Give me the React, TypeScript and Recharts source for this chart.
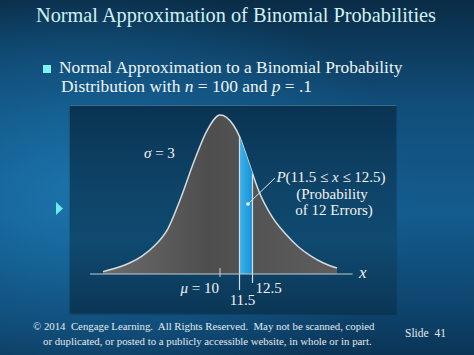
import React from "react"
import {
  Area,
  ComposedChart,
  ReferenceDot,
  ReferenceLine,
  XAxis,
  YAxis
} from "recharts"

// x values (number of errors) and curve height (density x 1000)
const xs = [1, 2, 3, 4, 5, 6, 7, 8, 9, 10, 11, 11.5, 12, 12.5, 13, 14, 15, 16, 17, 18, 19]
const density = [2, 5, 9, 15, 24, 38, 64, 94, 120, 133, 125, 115, 100, 84, 69, 48, 34, 23, 15, 9, 5]
const bandFrom = 11.5
const bandTo = 12.5
const tickValues = [10, 11.5, 12.5]

const data = xs.map((x, i) => ({
  x,
  y: density[i],
  band: x >= bandFrom && x <= bandTo ? density[i] : null
}))

const serif = "'Liberation Serif', 'DejaVu Serif', serif"
const hOf = (v: number) => density[xs.indexOf(v)]

function Tick(props: any) {
  const { x, y, payload } = props
  const v = payload.value
  const style = { fontFamily: serif, fontSize: 15, fill: "#f2f2f2" }
  if (v === 10) {
    return (
      <g>
        <line x1={x} x2={x} y1={y - 6} y2={y + 3} stroke="#c8d4dc" strokeWidth={1} />
        <text x={x - 1} y={y + 19} textAnchor="end" style={style}>
          <tspan fontStyle="italic">μ</tspan> = 10
        </text>
      </g>
    )
  }
  if (v === 11.5) {
    return (
      <text x={x + 3} y={y + 31} textAnchor="middle" style={style}>
        11.5
      </text>
    )
  }
  return (
    <text x={x + 3} y={y + 19} textAnchor="start" style={style}>
      12.5
    </text>
  )
}

export default function App() {
  const pre = { whiteSpace: "pre" as const }
  return (
    <div
      style={{
        position: "fixed",
        left: 0,
        top: 0,
        width: 474,
        height: 355,
        overflow: "hidden",
        fontFamily: serif,
        background:
          "radial-gradient(ellipse 70% 60% at 18% 55%, #1b74ac 0%, rgba(22,98,150,0.6) 50%, rgba(12,50,80,0) 100%), linear-gradient(180deg, #0a2c46 0%, #114e7a 30%, #135c8e 60%, #0e4670 85%, #0b3556 100%)"
      }}
    >
      <div
        style={{
          position: "absolute",
          left: 70,
          top: 105,
          width: 326,
          height: 207,
          background: "linear-gradient(180deg, #0a3352 0%, #0e4468 40%, #0f4a70 65%, #0b3656 100%)",
          borderTop: "1px solid #3c6c8c",
          boxShadow: "0 1px 2px rgba(0,0,0,0.4)"
        }}
      />
      <div style={{ position: "absolute", left: 0, top: 0 }}>
        <ComposedChart
          width={474}
          height={355}
          data={data}
          margin={{ top: 106.6, right: 121.4, bottom: 51, left: 90 }}
        >
          <defs>
            <linearGradient id="gray" x1="0" y1="0" x2="1" y2="0">
              <stop offset="0%" stopColor="#6c6c6c" />
              <stop offset="45%" stopColor="#4e4e4e" />
              <stop offset="100%" stopColor="#5e5e5e" />
            </linearGradient>
            <linearGradient id="blue" x1="0" y1="0" x2="1" y2="0">
              <stop offset="0%" stopColor="#3cb4ec" />
              <stop offset="100%" stopColor="#1690d4" />
            </linearGradient>
          </defs>
          <XAxis
            dataKey="x"
            type="number"
            domain={[0, 20.2]}
            ticks={tickValues}
            interval={0}
            tickLine={false}
            tickSize={0}
            tickMargin={0}
            height={30}
            axisLine={{ stroke: "#c0ccd4", strokeWidth: 1.2 }}
            tick={<Tick />}
          />
          <YAxis type="number" domain={[0, 140]} hide width={0} />
          <Area
            type="monotone"
            dataKey="y"
            stroke="#d6dce0"
            strokeWidth={1.5}
            fill="url(#gray)"
            fillOpacity={1}
            isAnimationActive={false}
          />
          <Area
            type="monotone"
            dataKey="band"
            stroke="none"
            fill="url(#blue)"
            fillOpacity={1}
            isAnimationActive={false}
          />
          <ReferenceLine
            segment={[{ x: bandFrom, y: hOf(bandFrom) }, { x: bandFrom, y: -13.5 }]}
            stroke="#d0e0ea"
            strokeWidth={1.2}
            ifOverflow="visible"
          />
          <ReferenceLine
            segment={[{ x: bandTo, y: hOf(bandTo) }, { x: bandTo, y: -7.5 }]}
            stroke="#d0e0ea"
            strokeWidth={1.2}
            ifOverflow="visible"
          />
          <ReferenceLine
            segment={[{ x: 12.15, y: 58.5 }, { x: 14.23, y: 80.3 }]}
            stroke="#e0e8ee"
            strokeWidth={1}
            ifOverflow="visible"
          />
          <ReferenceDot x={12.15} y={58.5} r={1.8} fill="#ffffff" stroke="none" ifOverflow="visible" />
        </ComposedChart>
      </div>
      <svg
        width={474}
        height={355}
        style={{ position: "absolute", left: 0, top: 0, pointerEvents: "none" }}
      >
        <text x={236} y={22} textAnchor="middle" fontSize={20.3} fill="#d2f0f2" fontFamily={serif}>
          Normal Approximation of Binomial Probabilities
        </text>
        <rect x={43} y={65} width={8} height={8} fill="#7ff4f6" />
        <text x={59} y={73} fontSize={17.4} fill="#eef4f6" fontFamily={serif}>
          Normal Approximation to a Binomial Probability
        </text>
        <text x={61} y={92} fontSize={17.4} fill="#eef4f6" fontFamily={serif}>
          Distribution with <tspan fontStyle="italic">n</tspan> = 100 and{" "}
          <tspan fontStyle="italic">p</tspan> = .1
        </text>
        <polygon points="56,202 63,208.5 56,215" fill="#6fe8f2" />
        <text x={144} y={158} fontSize={15} fill="#f2f2f2" fontFamily={serif}>
          <tspan fontStyle="italic">σ</tspan> = 3
        </text>
        <text x={331} y={182} textAnchor="middle" fontSize={15} fill="#f2f2f2" fontFamily={serif}>
          <tspan fontStyle="italic">P</tspan>(11.5 ≤ <tspan fontStyle="italic">x</tspan> ≤ 12.5)
        </text>
        <text x={332} y={199} textAnchor="middle" fontSize={15} fill="#f2f2f2" fontFamily={serif}>
          (Probability
        </text>
        <text x={334} y={215} textAnchor="middle" fontSize={15} fill="#f2f2f2" fontFamily={serif}>
          of 12 Errors)
        </text>
        <text x={359} y={278} fontSize={17} fontStyle="italic" fill="#f2f2f2" fontFamily={serif}>
          x
        </text>
        <text x={33} y={330} fontSize={10.8} fill="#e2eaf0" fontFamily={serif} style={pre}>
          {"© 2014  Cengage Learning.  All Rights Reserved.  May not be scanned, copied"}
        </text>
        <text x={43} y={345} fontSize={10.8} fill="#e2eaf0" fontFamily={serif} style={pre}>
          {"or duplicated, or posted to a publicly accessible website, in whole or in part."}
        </text>
        <text x={405} y={337} fontSize={11.5} fill="#e2eaf0" fontFamily={serif} style={pre}>
          {"Slide  41"}
        </text>
      </svg>
    </div>
  )
}
